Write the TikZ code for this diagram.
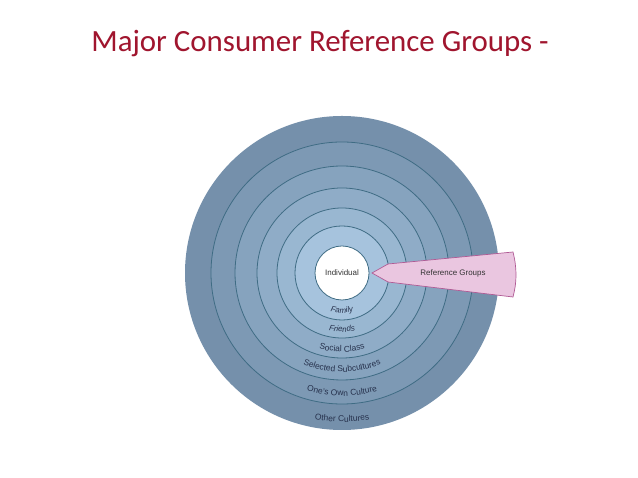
\documentclass[tikz,border=0pt]{standalone}
\usepackage{fontspec}
\setmainfont{Liberation Sans}
\newfontfamily\titlefont{Carlito}
\usetikzlibrary{decorations.text}
\definecolor{titlered}{HTML}{A0152E}
\definecolor{ringline}{HTML}{3F6C84}
\definecolor{labelc}{HTML}{27324D}
\definecolor{pinkfill}{HTML}{EAC6E0}
\definecolor{pinkline}{HTML}{B05A94}
\definecolor{f7}{HTML}{7590AB}
\definecolor{f6}{HTML}{7D99B4}
\definecolor{f5}{HTML}{86A3BE}
\definecolor{f4}{HTML}{8FACC7}
\definecolor{f3}{HTML}{99B7D1}
\definecolor{f2}{HTML}{A6C3DD}
\tikzset{
  ring/.style={circle, draw=ringline, line width=0.8pt, inner sep=0pt},
}
\begin{document}
\begin{tikzpicture}[x=1bp,y=1bp]
\useasboundingbox (0,0) rectangle (638,478);
\fill[white] (0,0) rectangle (638,478);
\node[text=titlered, font=\titlefont\fontsize{31}{36}\selectfont] (title) at (320,434) {Major Consumer Reference Groups -};
\coordinate (c) at (342,205);
\node[circle, inner sep=0pt, fill=f7, minimum size=314bp] (r7) at (c) {};
\node[ring, fill=f6, minimum size=262bp] (r6) at (c) {};
\node[ring, fill=f5, minimum size=214bp] (r5) at (c) {};
\node[ring, fill=f4, minimum size=170bp] (r4) at (c) {};
\node[ring, fill=f3, minimum size=130bp] (r3) at (c) {};
\node[ring, fill=f2, minimum size=94bp] (r2) at (c) {};
\node[ring, fill=white, minimum size=54bp, font=\fontsize{8}{9}\selectfont, text=black!80] (ind) at (c) {Individual};
\path[draw=pinkline, fill=pinkfill, line width=0.7pt]
  (372,205) -- (388,214) -- (513,226) .. controls (517,210) and (517,196) .. (513,181) -- (388,196) -- cycle;
\node[font=\fontsize{8}{9}\selectfont, text=black!80] (rg) at (453,205) {Reference Groups};
\path[decorate, decoration={text along path, text align=center, text={|\fontsize{8}{9}\selectfont\color{labelc}\itshape|Family}}] (c) ++(200:40) arc (200:340:40);
\path[decorate, decoration={text along path, text align=center, text={|\fontsize{8}{9}\selectfont\color{labelc}\itshape|Friends}}] (c) ++(205:59) arc (205:335:59);
\path[decorate, decoration={text along path, text align=center, text={|\fontsize{8.5}{9}\selectfont\color{labelc}|Social Class}}] (c) ++(205:79) arc (205:335:79);
\path[decorate, decoration={text along path, text align=center, text={|\fontsize{8.5}{9}\selectfont\color{labelc}|Selected Subcultures}}] (c) ++(205:99) arc (205:335:99);
\path[decorate, decoration={text along path, text align=center, text={|\fontsize{8.5}{9}\selectfont\color{labelc}|One's Own Culture}}] (c) ++(205:123) arc (205:335:123);
\path[decorate, decoration={text along path, text align=center, text={|\fontsize{8.5}{9}\selectfont\color{labelc}|Other Cultures}}] (c) ++(210:149) arc (210:330:149);
\end{tikzpicture}
\end{document}
